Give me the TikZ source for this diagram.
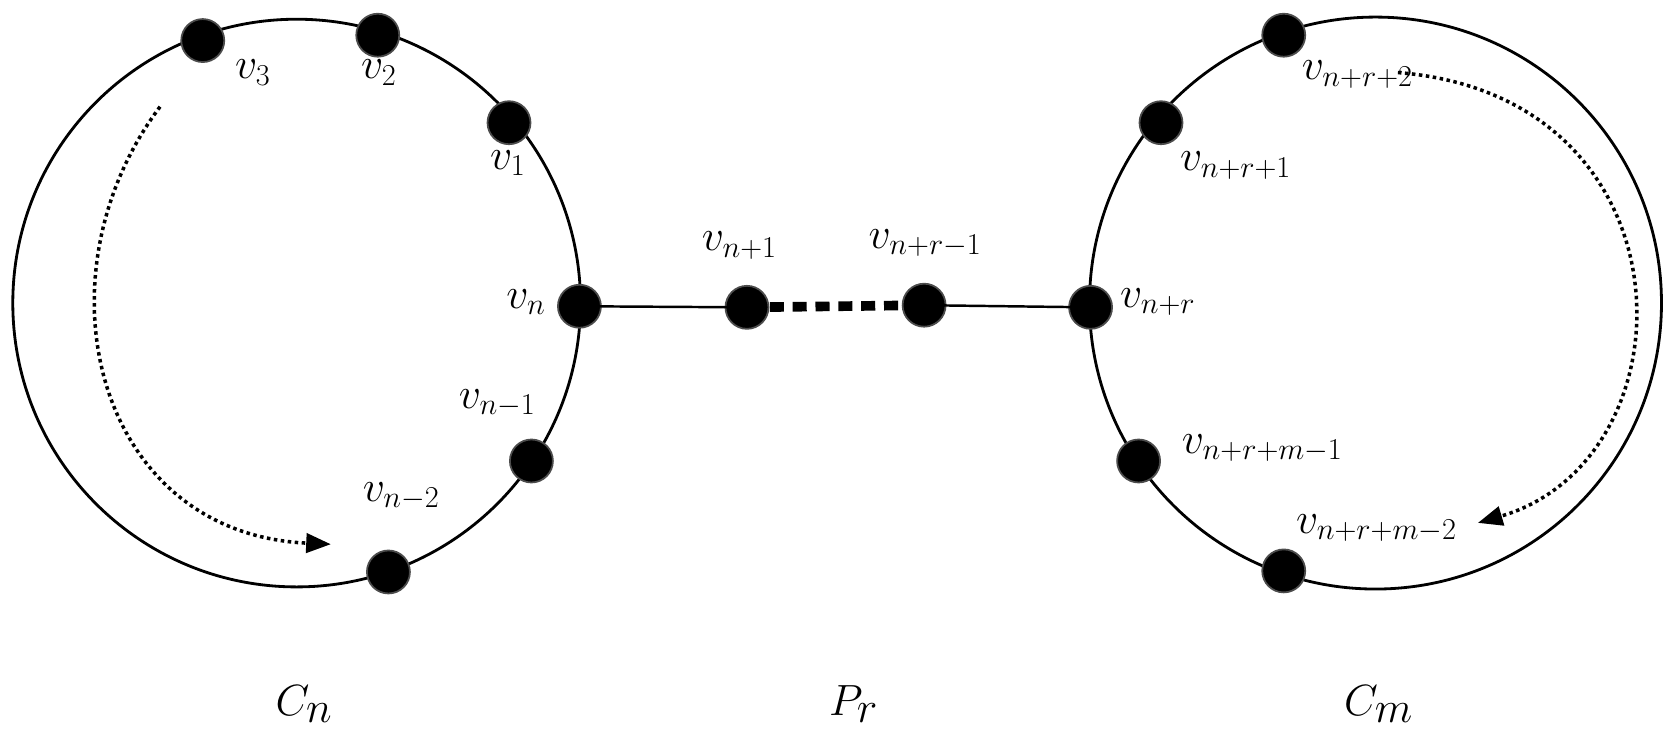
\documentclass[tikz,border=0pt]{standalone}
\usetikzlibrary{arrows.meta}
\begin{document}
\begin{tikzpicture}[x=0.02134cm,y=-0.02134cm,
  vtx/.style={circle,fill=black,draw=black!70,line width=1pt,minimum size=0.86cm,inner sep=0pt},
  lab/.style={font=\fontsize{23.5}{28}\selectfont},
  big/.style={font=\fontsize{36}{42}\selectfont},
  edge/.style={line width=1.4pt}]
\useasboundingbox (0,0) rectangle (1565,691);
\draw[line width=1.6pt] (278,284) circle[radius=266];
\draw[line width=1.6pt] (1289,284) circle[radius=268];
\node[vtx] (v3) at (190,38) {};
\node[vtx] (v2) at (354,33) {};
\node[vtx] (v1) at (477,115) {};
\node[vtx] (vn) at (543,287) {};
\node[vtx] (vn1) at (498,432) {};
\node[vtx] (vn2) at (364,536) {};
\node[vtx] (p1) at (700,288) {};
\node[vtx] (pr1) at (866,286) {};
\node[vtx] (pr) at (1022,288) {};
\node[vtx] (r2) at (1203,33) {};
\node[vtx] (r1) at (1088,115) {};
\node[vtx] (rm1) at (1067,432) {};
\node[vtx] (rm2) at (1203,535) {};
\draw[edge] (vn.center) -- (p1.center);
\draw[line width=5.5pt,dash pattern=on 8pt off 5pt] (p1.center) -- (pr1.center);
\draw[edge] (pr1.center) -- (pr.center);
\node[lab] at (237,68) {$v_3$};
\node[lab] at (355,68) {$v_2$};
\node[lab] at (476,153) {$v_1$};
\node[lab] at (493,283) {$v_n$};
\node[lab] at (466,378) {$v_{n-1}$};
\node[lab] at (376,465) {$v_{n-2}$};
\node[lab] at (693,230) {$v_{n+1}$};
\node[lab] at (867,228) {$v_{n+r-1}$};
\node[lab] at (1085,283) {$v_{n+r}$};
\node[lab] at (1272,70) {$v_{n+r+2}$};
\node[lab] at (1158,155) {$v_{n+r+1}$};
\node[lab] at (1183,420) {$v_{n+r+m-1}$};
\node[lab] at (1290,495) {$v_{n+r+m-2}$};
\node[big] (cn) at (285,660) {$C_n$};
\node[big] (prl) at (800,660) {$P_r$};
\node[big] (cm) at (1292,660) {$C_m$};
\draw[line width=2pt,dotted,-{Triangle[length=14pt,width=11pt]}] (150,100) .. controls (30,260) and (90,500) .. (310,510);
\draw[line width=2pt,dotted,-{Triangle[length=14pt,width=11pt]}] (1310,68) .. controls (1590,90) and (1590,430) .. (1385,490);
\end{tikzpicture}
\end{document}
